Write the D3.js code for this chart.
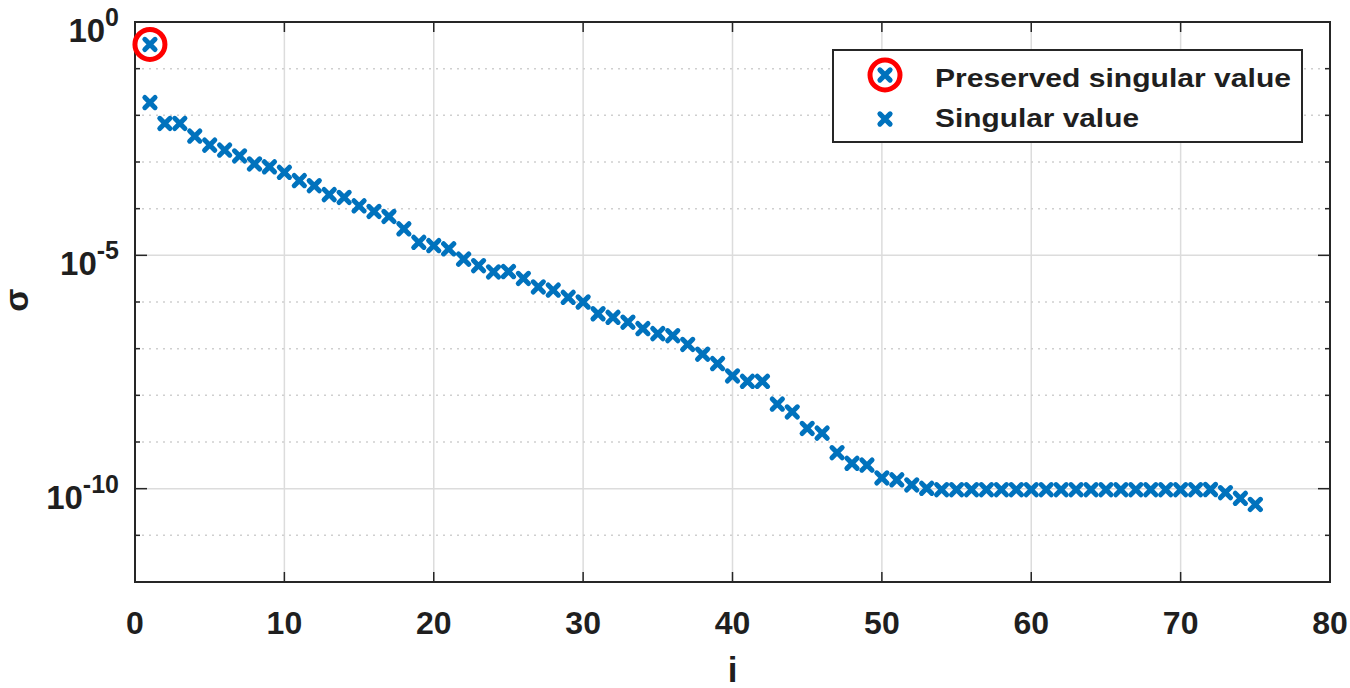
<!DOCTYPE html>
<html>
<head>
<meta charset="utf-8">
<script src="https://cdn.jsdelivr.net/npm/d3@7"></script>
<style>
  html, body { margin: 0; padding: 0; background: #fff; }
  svg text { font-family: "Liberation Sans", Arial, Helvetica, sans-serif; font-weight: bold; fill: #1f1f1f; }
</style>
</head>
<body>
<svg id="chart" width="1350" height="688"></svg>
<script>
// singular values, index i = 1..75
const sigma = [
  1.88e-2, 6.7e-3, 6.7e-3, 3.6e-3, 2.3e-3, 1.8e-3, 1.35e-3, 9.1e-4, 7.9e-4, 6.0e-4,
  4.0e-4, 3.1e-4, 2.0e-4, 1.74e-4, 1.15e-4, 8.7e-5, 6.8e-5, 3.7e-5, 1.9e-5, 1.62e-5,
  1.38e-5, 8.3e-6, 6.0e-6, 4.4e-6, 4.5e-6, 3.2e-6, 2.1e-6, 1.8e-6, 1.26e-6, 1.0e-6,
  5.6e-7, 4.7e-7, 3.7e-7, 2.7e-7, 2.1e-7, 1.9e-7, 1.23e-7, 7.6e-8, 4.8e-8, 2.6e-8,
  2.0e-8, 2.0e-8, 6.5e-9, 4.4e-9, 1.95e-9, 1.55e-9, 5.9e-10, 3.5e-10, 3.2e-10, 1.7e-10,
  1.55e-10, 1.2e-10, 1.02e-10, 9.5e-11, 9.5e-11, 9.5e-11, 9.5e-11, 9.5e-11, 9.5e-11, 9.5e-11,
  9.5e-11, 9.5e-11, 9.5e-11, 9.5e-11, 9.5e-11, 9.5e-11, 9.5e-11, 9.5e-11, 9.5e-11, 9.5e-11,
  9.5e-11, 9.6e-11, 8.2e-11, 6.2e-11, 4.6e-11
];
const preserved = [{ i: 1, v: 0.33 }];

const xTicks = [0, 10, 20, 30, 40, 50, 60, 70, 80];
const yDecades = [1e0, 1e-1, 1e-2, 1e-3, 1e-4, 1e-5, 1e-6, 1e-7, 1e-8, 1e-9, 1e-10, 1e-11, 1e-12];
const yLabelled = [0, -5, -10]; // exponents shown as 10^n

const margin = { top: 22, right: 20, bottom: 106, left: 135 };
const innerW = 1330 - margin.left;
const innerH = 582 - margin.top;

const blue = "#0072BD";
const axisColor = "#262626";
const gridColor = "#dcdcdc";

const svg = d3.select("#chart");
const g = svg.append("g").attr("transform", `translate(${margin.left},${margin.top})`);

const x = d3.scaleLinear().domain([0, 80]).range([0, innerW]);
const y = d3.scaleLog().domain([1e-12, 1]).range([innerH, 0]);

const isLabelled = d => yLabelled.includes(Math.round(Math.log10(d)));

// grid
g.append("g").selectAll("line")
  .data(xTicks.filter(t => t > 0 && t < 80))
  .join("line")
  .attr("x1", d => x(d)).attr("x2", d => x(d))
  .attr("y1", 0).attr("y2", innerH)
  .attr("stroke", gridColor).attr("stroke-width", 1.5);

g.append("g").selectAll("line")
  .data(yDecades.filter(d => d < 1 && d > 1e-12))
  .join("line")
  .attr("x1", 0).attr("x2", innerW)
  .attr("y1", d => y(d)).attr("y2", d => y(d))
  .attr("stroke", d => isLabelled(d) ? gridColor : "#cfcfcf")
  .attr("stroke-width", 1.5)
  .attr("stroke-dasharray", d => isLabelled(d) ? null : "2,5");

// ticks (inward)
const tickG = g.append("g").attr("stroke", axisColor).attr("stroke-width", 1.5);
xTicks.filter(t => t > 0 && t < 80).forEach(t => {
  tickG.append("line").attr("x1", x(t)).attr("x2", x(t)).attr("y1", innerH).attr("y2", innerH - 10);
  tickG.append("line").attr("x1", x(t)).attr("x2", x(t)).attr("y1", 0).attr("y2", 10);
});
yDecades.forEach(d => {
  const len = isLabelled(d) ? 12 : 5;
  tickG.append("line").attr("x1", 0).attr("x2", len).attr("y1", y(d)).attr("y2", y(d));
  tickG.append("line").attr("x1", innerW).attr("x2", innerW - len).attr("y1", y(d)).attr("y2", y(d));
});

// frame
g.append("rect")
  .attr("width", innerW).attr("height", innerH)
  .attr("fill", "none").attr("stroke", axisColor).attr("stroke-width", 2);

// x tick labels
g.append("g").selectAll("text")
  .data(xTicks)
  .join("text")
  .attr("x", d => x(d))
  .attr("y", innerH + 52)
  .attr("text-anchor", "middle")
  .style("font-size", "32px")
  .text(d => d);

// y tick labels 10^n
const yl = g.append("g").selectAll("text")
  .data(yLabelled)
  .join("text")
  .attr("x", -16)
  .attr("y", d => y(Math.pow(10, d)) + 20)
  .attr("text-anchor", "end")
  .style("font-size", "33px");
yl.append("tspan").text("10");
yl.append("tspan").attr("dy", -16).style("font-size", "25px").text(d => d);

// axis titles
svg.append("text")
  .attr("x", margin.left + innerW / 2)
  .attr("y", 682)
  .attr("text-anchor", "middle")
  .style("font-size", "35px")
  .text("i");

svg.append("text")
  .attr("transform", `translate(28,300) rotate(-90)`)
  .attr("text-anchor", "middle")
  .style("font-size", "34px")
  .text("σ");

// markers
const cross = d3.symbol().type(d3.symbolTimes).size(70);
const markerStyle = sel => sel
  .attr("d", cross)
  .attr("fill", "none")
  .attr("stroke", blue)
  .attr("stroke-width", 5)
  .attr("stroke-linecap", "round");

g.append("g").selectAll("path")
  .data(sigma)
  .join("path")
  .attr("transform", (d, k) => `translate(${x(k + 1)},${y(d)})`)
  .call(markerStyle);

const pres = g.append("g").selectAll("g")
  .data(preserved)
  .join("g")
  .attr("transform", d => `translate(${x(d.i)},${y(d.v)})`);
pres.append("path").call(markerStyle);
pres.append("circle").attr("r", 15)
  .attr("fill", "none").attr("stroke", "#ff0000").attr("stroke-width", 5);

// legend
const lg = svg.append("g").attr("transform", "translate(833,50)");
lg.append("rect")
  .attr("width", 469).attr("height", 92)
  .attr("fill", "#fff").attr("stroke", axisColor).attr("stroke-width", 2);

const l1 = lg.append("g").attr("transform", "translate(52,25)");
l1.append("path").call(markerStyle);
l1.append("circle").attr("r", 15)
  .attr("fill", "none").attr("stroke", "#ff0000").attr("stroke-width", 5);
lg.append("text").attr("x", 102).attr("y", 37).style("font-size", "26px")
  .attr("textLength", 356).attr("lengthAdjust", "spacingAndGlyphs")
  .text("Preserved singular value");

lg.append("path").attr("transform", "translate(52,69)").call(markerStyle);
lg.append("text").attr("x", 102).attr("y", 77).style("font-size", "26px")
  .attr("textLength", 204).attr("lengthAdjust", "spacingAndGlyphs")
  .text("Singular value");
</script>
</body>
</html>
